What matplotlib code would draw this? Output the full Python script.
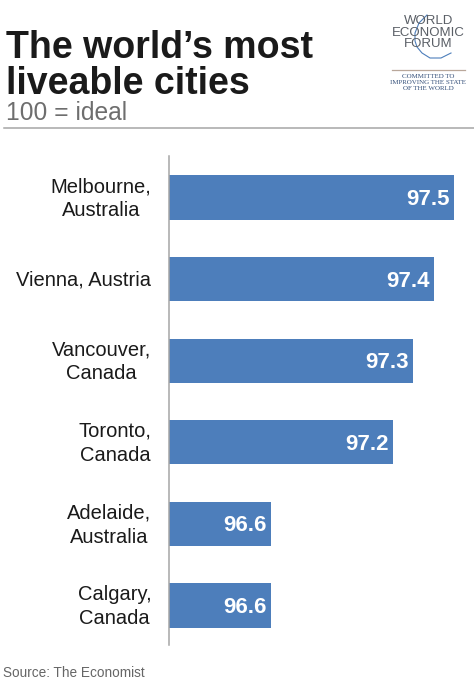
import matplotlib
matplotlib.use("Agg")
import matplotlib.pyplot as plt
from matplotlib.lines import Line2D

cities = ["Melbourne,\nAustralia", "Vienna, Austria", "Vancouver,\nCanada",
          "Toronto,\nCanada", "Adelaide,\nAustralia", "Calgary,\nCanada"]
scores = [97.5, 97.4, 97.3, 97.2, 96.6, 96.6]
labels = ["97.5", "97.4", "97.3", "97.2", "96.6", "96.6"]

W, H = 474, 680
plt.rcParams["font.family"] = ["Liberation Sans", "DejaVu Sans"]
fig = plt.figure(figsize=(W / 100, H / 100), dpi=100, facecolor="white")

def fx(px): return px / W
def fy(py): return 1 - py / H

L, R, T, B = 169, 469, 156, 645
ax = fig.add_axes([fx(L), fy(B), (R - L) / W, (B - T) / H])
ax.barh(range(len(scores)), scores, height=0.54, color="#4d7ebb", left=0)
ax.set_xlim(96.1, 96.1 + (R - L) / 203.5)
ax.set_ylim(5.484, -0.5086)
for s in ["top", "right", "bottom"]:
    ax.spines[s].set_visible(False)
ax.spines["left"].set_color("#a6a6a6")
ax.spines["left"].set_linewidth(1.1)
ax.set_xticks([])
ax.set_yticks([])
for i, city in enumerate(cities):
    ax.annotate(city, (0, i), xycoords=ax.get_yaxis_transform(), xytext=(-12.7, -0.8),
                textcoords="offset points", ha="right", va="center", multialignment="center",
                fontsize=14.5, color="#1a1a1a", linespacing=1.34)
for i, (v, lab) in enumerate(zip(scores, labels)):
    ax.annotate(lab, (v, i), xytext=(-3.0, -1.5), textcoords="offset points", ha="right",
                va="center", color="white", fontsize=16, fontweight="bold")

fig.text(fx(6), fy(58), "The world\u2019s most", fontsize=27.0, fontweight="bold", color="#1a1a1a", va="baseline")
fig.text(fx(6), fy(94), "liveable cities", fontsize=27.0, fontweight="bold", color="#1a1a1a", va="baseline")
fig.text(fx(6), fy(120), "100 = ideal", fontsize=17.7, color="#6e6e6e", va="baseline")
fig.add_artist(Line2D([fx(4), fx(474)], [fy(127.5), fy(127.5)], color="#a6a6a6", lw=1.1))
fig.text(fx(3), fy(677), "Source: The Economist", fontsize=9.8, color="#666666", va="baseline")

# logo
logo = "#5a5f66"
for txt, y in [("WORLD", 24), ("ECONOMIC", 36), ("FORUM", 47)]:
    fig.text(fx(428.5), fy(y), txt, fontsize=9.5, color=logo, ha="center", va="baseline")
fig.add_artist(Line2D([fx(392), fx(465)], [fy(70), fy(70)], color="#b9a79a", lw=0.9))
for txt, y in [("COMMITTED TO", 78), ("IMPROVING THE STATE", 84), ("OF THE WORLD", 90)]:
    fig.text(fx(428.5), fy(y), txt, fontsize=5, family="Liberation Serif", color="#35507a", ha="center", va="baseline")
fig.add_artist(Line2D([fx(427), fx(419), fx(415), fx(415), fx(417), fx(422), fx(430), fx(441), fx(451)],
                      [fy(15), fy(23), fy(33), fy(41), fy(47), fy(53), fy(58), fy(58), fy(53)],
                      color="#4d7ebb", lw=0.8))
fig.savefig("out.png", dpi=100, facecolor="white")
